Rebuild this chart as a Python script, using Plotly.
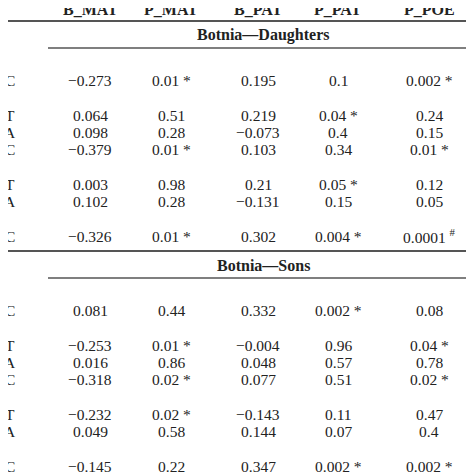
import plotly.graph_objects as go

columns = ["B_MAT", "P_MAT", "B_PAT", "P_PAT", "P_POE"]
row_labels = ["C", "T", "A", "C", "T", "A", "C"]
daughters = [
    ["\u22120.273", "0.01 *", "0.195", "0.1", "0.002 *"],
    ["0.064", "0.51", "0.219", "0.04 *", "0.24"],
    ["0.098", "0.28", "\u22120.073", "0.4", "0.15"],
    ["\u22120.379", "0.01 *", "0.103", "0.34", "0.01 *"],
    ["0.003", "0.98", "0.21", "0.05 *", "0.12"],
    ["0.102", "0.28", "\u22120.131", "0.15", "0.05"],
    ["\u22120.326", "0.01 *", "0.302", "0.004 *", "0.0001 <sup>#</sup>"],
]
sons = [
    ["0.081", "0.44", "0.332", "0.002 *", "0.08"],
    ["\u22120.253", "0.01 *", "\u22120.004", "0.96", "0.04 *"],
    ["0.016", "0.86", "0.048", "0.57", "0.78"],
    ["\u22120.318", "0.02 *", "0.077", "0.51", "0.02 *"],
    ["\u22120.232", "0.02 *", "\u22120.143", "0.11", "0.47"],
    ["0.049", "0.58", "0.144", "0.07", "0.4"],
    ["\u22120.145", "0.22", "0.347", "0.002 *", "0.002 *"],
]
sections = ["Botnia\u2014Daughters", "Botnia\u2014Sons"]

col_x = [82, 163, 250, 330, 421]
row_offsets = [0, 35, 52, 69, 104, 121, 156]
section_top = [13, 243]
font = dict(family="Liberation Serif", size=15.5, color="#222")
bold = dict(family="Liberation Serif", size=16, color="#222")

fig = go.Figure()
ann = []
shapes = []
ann.append(dict(x=-2, y=1, text="<b>D</b>", font=bold))
for c, x in zip(columns, col_x):
    ann.append(dict(x=x, y=1, text="<b>" + c + "</b>", font=bold))
for s, (title, data) in enumerate(zip(sections, [daughters, sons])):
    top = section_top[s]
    shapes.append(dict(type="line", x0=0, x1=474, y0=top, y1=top, line=dict(color="#555", width=2)))
    ann.append(dict(x=255, y=top + 14, text="<b>" + title + "</b>", font=bold))
    shapes.append(dict(type="line", x0=40, x1=470, y0=top + 27, y1=top + 27, line=dict(color="#555", width=1.5)))
    for r, row in enumerate(data):
        y = top + 59 + row_offsets[r]
        ann.append(dict(x=2, y=y, text=row_labels[r], font=font))
        for v, x in zip(row, col_x):
            ann.append(dict(x=x, y=y, text=v, font=font))
for a in ann:
    a.update(xref="x", yref="y", showarrow=False)
fig.update_layout(
    width=474, height=474, margin=dict(l=0, r=0, t=0, b=0),
    paper_bgcolor="white", plot_bgcolor="white",
    xaxis=dict(range=[0, 474], visible=False),
    yaxis=dict(range=[474, 0], visible=False),
    annotations=ann, shapes=shapes,
)
fig.write_html("out.html")
